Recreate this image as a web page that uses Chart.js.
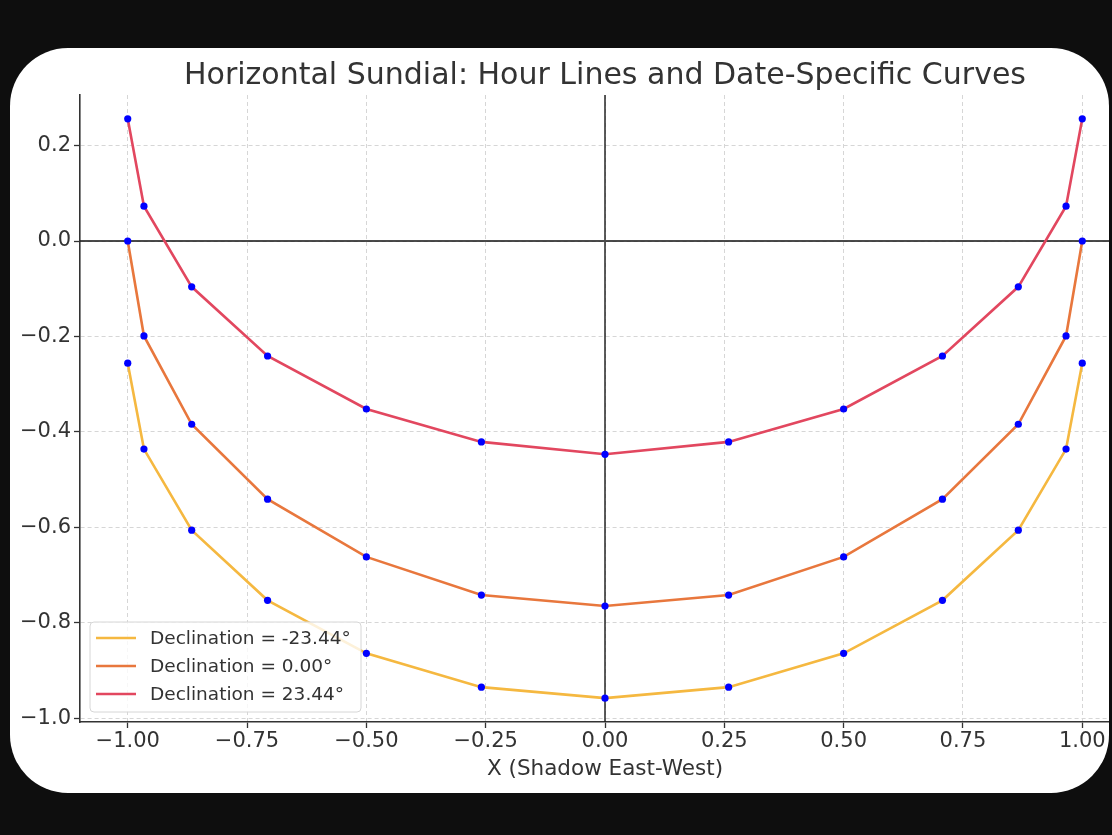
<!DOCTYPE html>
<html>
<head>
<meta charset="utf-8">
<script src="https://cdn.jsdelivr.net/npm/chart.js@4.4.1/dist/chart.umd.min.js"></script>
<style>
  html, body { margin: 0; width: 1112px; height: 835px; overflow: hidden; background: #0e0e0e; }
  #card { position: absolute; left: 10px; top: 48px; width: 1099px; height: 745px; border-radius: 58px; background: #fff; overflow: hidden; }
  #c { position: absolute; left: -10px; top: -48px; }
</style>
</head>
<body>
<div id="card"><canvas id="c" width="1150" height="835"></canvas></div>
<script>
// sin of hour angle, -90..90 deg in 15 deg steps
const hourX = [-1, -0.966, -0.866, -0.707, -0.5, -0.259, 0, 0.259, 0.5, 0.707, 0.866, 0.966, 1];
const winterY = [-0.256, -0.436, -0.606, -0.753, -0.864, -0.935, -0.958, -0.935, -0.864, -0.753, -0.606, -0.436, -0.256];
const equinoxY = [0, -0.199, -0.384, -0.541, -0.662, -0.742, -0.765, -0.742, -0.662, -0.541, -0.384, -0.199, 0];
const summerY = [0.256, 0.073, -0.096, -0.241, -0.352, -0.421, -0.447, -0.421, -0.352, -0.241, -0.096, 0.073, 0.256];

const seriesLabels = ['Declination = -23.44°', 'Declination = 0.00°', 'Declination = 23.44°'];
const seriesColors = ['#f5b840', '#e8773d', '#e2475f'];

const xTicks = [-1, -0.75, -0.5, -0.25, 0, 0.25, 0.5, 0.75, 1];
const yTicks = [-1, -0.8, -0.6, -0.4, -0.2, 0, 0.2];

const TITLE = 'Horizontal Sundial: Hour Lines and Date-Specific Curves';
const FONT = 'DejaVu Sans';
const TXT = '#333';

const pts = (ys) => hourX.map((x, i) => ({ x, y: ys[i] }));
const minus = (s) => s.replace('-', '\u2212');

const titlePlugin = {
  id: 'topTitle',
  afterDraw(chart) {
    const { ctx, chartArea } = chart;
    ctx.save();
    ctx.font = '30px "' + FONT + '"';
    ctx.fillStyle = TXT;
    ctx.textAlign = 'center';
    ctx.textBaseline = 'middle';
    ctx.fillText(TITLE, (chartArea.left + chartArea.right) / 2, 76);
    ctx.restore();
  }
};

// axhline / axvline at zero
const zeroLines = {
  id: 'zeroLines',
  beforeDatasetsDraw(chart) {
    const { ctx, chartArea: a, scales } = chart;
    const x0 = scales.x.getPixelForValue(0);
    const y0 = scales.y.getPixelForValue(0);
    ctx.save();
    ctx.strokeStyle = 'rgba(30,30,30,0.8)';
    ctx.lineWidth = 1.8;
    ctx.beginPath();
    ctx.moveTo(a.left, y0); ctx.lineTo(a.right, y0);
    ctx.moveTo(x0, a.top); ctx.lineTo(x0, a.bottom);
    ctx.stroke();
    ctx.restore();
  }
};

const boxLegend = {
  id: 'boxLegend',
  afterDraw(chart) {
    const { ctx, chartArea: a } = chart;
    const w = 271, h = 90;
    const bx = a.left + 10, by = a.bottom - 10 - h;
    ctx.save();
    ctx.beginPath();
    ctx.roundRect(bx, by, w, h, 4);
    ctx.fillStyle = 'rgba(255,255,255,0.8)';
    ctx.fill();
    ctx.strokeStyle = '#d6d6d6';
    ctx.lineWidth = 1;
    ctx.stroke();
    ctx.font = '18.5px "' + FONT + '"';
    ctx.textBaseline = 'middle';
    chart.data.datasets.forEach((ds, i) => {
      const y = by + 16 + i * 28;
      ctx.strokeStyle = ds.borderColor;
      ctx.lineWidth = 2.5;
      ctx.beginPath();
      ctx.moveTo(bx + 6, y); ctx.lineTo(bx + 46, y);
      ctx.stroke();
      ctx.fillStyle = TXT;
      ctx.fillText(ds.label, bx + 60, y + 1);
    });
    ctx.restore();
  }
};

const gridOpts = {
  color: '#d6d6d6', lineWidth: 1,
  drawTicks: true, tickLength: 6, tickColor: TXT, tickWidth: 1.3, tickBorderDash: []
};
const borderOpts = { display: true, color: TXT, width: 1.6, dash: [4, 3] };

new Chart(document.getElementById('c'), {
  type: 'line',
  data: {
    datasets: [winterY, equinoxY, summerY].map((ys, i) => ({
      label: seriesLabels[i],
      data: pts(ys),
      borderColor: seriesColors[i],
      backgroundColor: seriesColors[i],
      borderWidth: 2.6,
      tension: 0,
      fill: false,
      pointRadius: 3.6,
      pointBackgroundColor: '#0000ff',
      pointBorderColor: '#0000ff',
      pointBorderWidth: 0,
    })),
  },
  options: {
    responsive: false, animation: false, devicePixelRatio: 1,
    layout: { padding: { top: 95, right: 20, left: 0, bottom: 49 } },
    plugins: { legend: { display: false }, tooltip: { enabled: false } },
    scales: {
      x: {
        type: 'linear', min: -1.1, max: 1.1,
        afterBuildTicks: (s) => { s.ticks = xTicks.map((v) => ({ value: v })); },
        afterFit: (s) => { s.height = 64; },
        grid: gridOpts,
        border: borderOpts,
        ticks: { color: TXT, padding: 1, font: { family: FONT, size: 21 }, callback: (v) => minus(v.toFixed(2)) },
        title: { display: true, text: 'X (Shadow East-West)', color: TXT, font: { family: FONT, size: 21.5 }, padding: { top: 0, bottom: 4 } },
      },
      y: {
        type: 'linear', min: -1.008, max: 0.306,
        afterBuildTicks: (s) => { s.ticks = yTicks.map((v) => ({ value: v })); },
        afterFit: (s) => { s.width = 80; },
        grid: gridOpts,
        border: borderOpts,
        ticks: { color: TXT, padding: 3, font: { family: FONT, size: 21 }, callback: (v) => minus(v.toFixed(1)) },
      },
    },
  },
  plugins: [zeroLines, boxLegend, titlePlugin],
});
</script>
</body>
</html>
